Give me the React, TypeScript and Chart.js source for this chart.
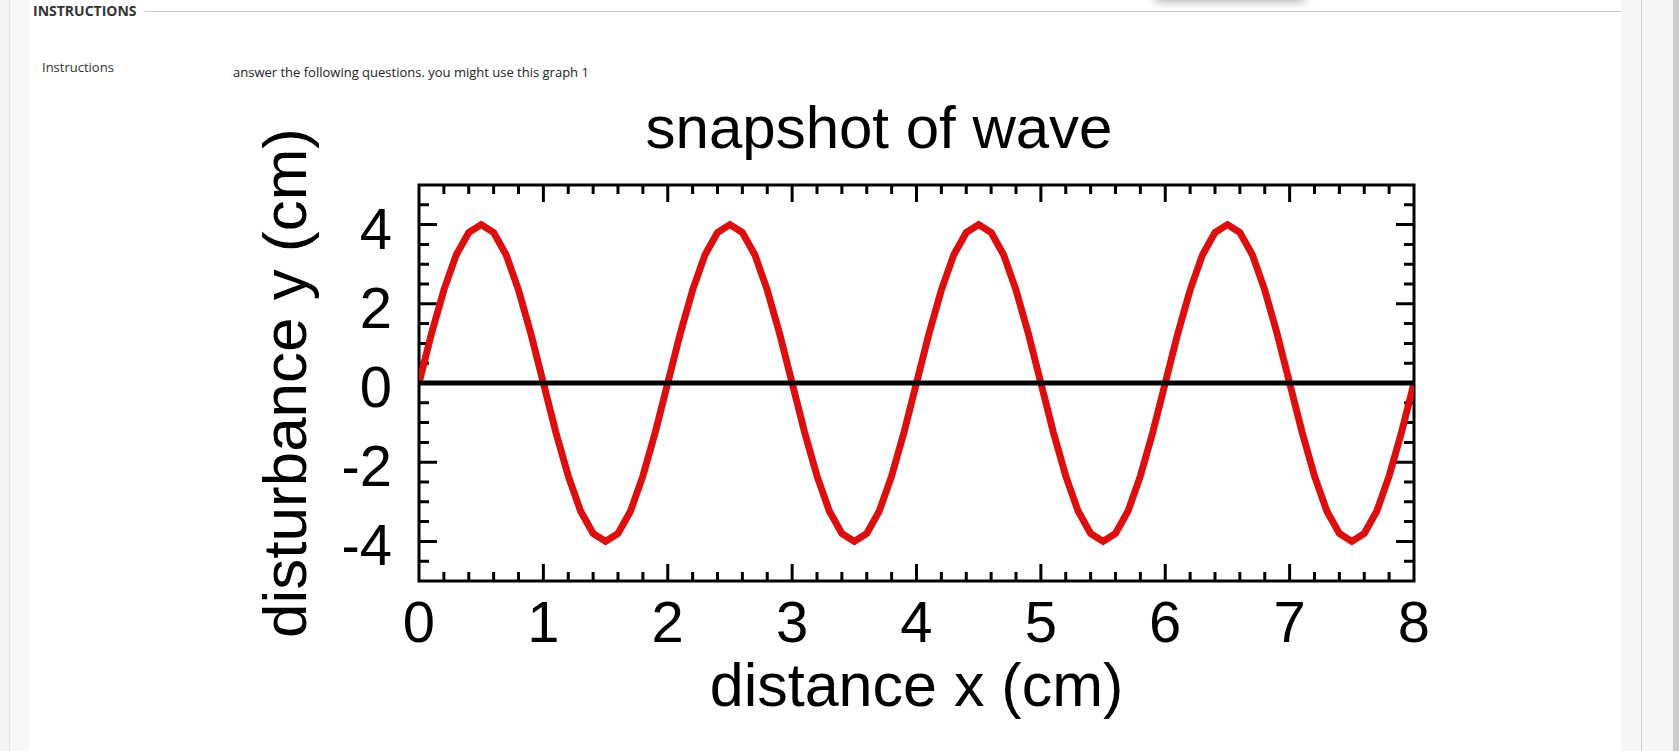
import React, { useEffect, useRef } from 'react';
import { Chart, registerables } from 'chart.js';

Chart.register(...registerables);

// ---- data ----
const xValues = [
  0, 0.1, 0.2, 0.3, 0.4, 0.5, 0.6, 0.7, 0.8, 0.9,
  1, 1.1, 1.2, 1.3, 1.4, 1.5, 1.6, 1.7, 1.8, 1.9,
  2, 2.1, 2.2, 2.3, 2.4, 2.5, 2.6, 2.7, 2.8, 2.9,
  3, 3.1, 3.2, 3.3, 3.4, 3.5, 3.6, 3.7, 3.8, 3.9,
  4, 4.1, 4.2, 4.3, 4.4, 4.5, 4.6, 4.7, 4.8, 4.9,
  5, 5.1, 5.2, 5.3, 5.4, 5.5, 5.6, 5.7, 5.8, 5.9,
  6, 6.1, 6.2, 6.3, 6.4, 6.5, 6.6, 6.7, 6.8, 6.9,
  7, 7.1, 7.2, 7.3, 7.4, 7.5, 7.6, 7.7, 7.8, 7.9,
  8,
];
const yValues = [
  0, 1.24, 2.35, 3.24, 3.8, 4, 3.8, 3.24, 2.35, 1.24,
  0, -1.24, -2.35, -3.24, -3.8, -4, -3.8, -3.24, -2.35, -1.24,
  0, 1.24, 2.35, 3.24, 3.8, 4, 3.8, 3.24, 2.35, 1.24,
  0, -1.24, -2.35, -3.24, -3.8, -4, -3.8, -3.24, -2.35, -1.24,
  0, 1.24, 2.35, 3.24, 3.8, 4, 3.8, 3.24, 2.35, 1.24,
  0, -1.24, -2.35, -3.24, -3.8, -4, -3.8, -3.24, -2.35, -1.24,
  0, 1.24, 2.35, 3.24, 3.8, 4, 3.8, 3.24, 2.35, 1.24,
  0, -1.24, -2.35, -3.24, -3.8, -4, -3.8, -3.24, -2.35, -1.24,
  0,
];
const zeroLineX = [0, 8];
const zeroLineY = [0, 0];
const xTickLabels = [0, 1, 2, 3, 4, 5, 6, 7, 8];
const yTickLabels = [-4, -2, 0, 2, 4];
const xRange = [0, 8];
const yRange = [-5, 5];
const xMinorStep = 0.2;
const yMinorStep = 0.5;

const chartTitle = 'snapshot of wave';
const xTitle = 'distance x (cm)';
const yTitle = 'disturbance y (cm)';

const FONT = "'Liberation Sans', Arial, sans-serif";

const frameTicksPlugin = {
  id: 'frameTicks',
  beforeDatasetsDraw(chart: any) {
    const { ctx, chartArea: a, scales } = chart;
    const xs = scales.x;
    const ys = scales.y;
    ctx.save();
    ctx.strokeStyle = '#000';
    ctx.lineWidth = 3;
    ctx.lineCap = 'butt';
    ctx.beginPath();
    const nx = Math.round((xRange[1] - xRange[0]) / xMinorStep);
    for (let i = 1; i < nx; i++) {
      const v = xRange[0] + i * xMinorStep;
      const major = xTickLabels.some((t) => Math.abs(t - v) < 1e-6);
      const len = major ? 17 : 9;
      const px = xs.getPixelForValue(v);
      ctx.moveTo(px, a.top);
      ctx.lineTo(px, a.top + len);
      ctx.moveTo(px, a.bottom);
      ctx.lineTo(px, a.bottom - len);
    }
    const ny = Math.round((yRange[1] - yRange[0]) / yMinorStep);
    for (let i = 1; i < ny; i++) {
      const v = yRange[0] + i * yMinorStep;
      const major = yTickLabels.some((t) => Math.abs(t - v) < 1e-6);
      const len = major ? 18 : 10;
      const py = ys.getPixelForValue(v);
      ctx.moveTo(a.left, py);
      ctx.lineTo(a.left + len, py);
      ctx.moveTo(a.right, py);
      ctx.lineTo(a.right - len, py);
    }
    ctx.stroke();
    ctx.strokeRect(a.left, a.top, a.right - a.left, a.bottom - a.top);
    ctx.restore();
  },
};

// canvas placement (page pixels)
const CANVAS_LEFT = 230;
const CANVAS_TOP = 90;
const CANVAS_W = 1204;
const CANVAS_H = 650;

function WaveChart() {
  const ref = useRef<HTMLCanvasElement | null>(null);
  useEffect(() => {
    if (!ref.current) return;
    const chart = new Chart(ref.current, {
      type: 'line',
      data: {
        datasets: [
          {
            label: 'zero',
            data: zeroLineX.map((x, i) => ({ x, y: zeroLineY[i] })),
            borderColor: '#000',
            borderWidth: 5,
            pointRadius: 0,
            tension: 0,
          },
          {
            label: 'wave',
            data: xValues.map((x, i) => ({ x, y: yValues[i] })),
            borderColor: '#dc0f0f',
            borderWidth: 7,
            pointRadius: 0,
            tension: 0,
            borderJoinStyle: 'miter',
          },
        ],
      },
      options: {
        animation: false,
        responsive: false,
        maintainAspectRatio: false,
        devicePixelRatio: 1,
        layout: { padding: { left: 114, right: 20, top: 0, bottom: 0 } },
        plugins: {
          legend: { display: false },
          tooltip: { enabled: false },
          title: {
            display: true,
            text: chartTitle,
            color: '#000',
            font: { family: FONT, size: 60, weight: 'normal', lineHeight: 1 },
            padding: { top: 11, bottom: 24 },
          },
        },
        scales: {
          x: {
            type: 'linear',
            min: xRange[0],
            max: xRange[1],
            grid: { display: false, drawTicks: false },
            border: { display: false },
            afterBuildTicks: (s: any) => {
              s.ticks = xTickLabels.map((v) => ({ value: v }));
            },
            afterFit: (s: any) => {
              s.height = 159;
              s.paddingLeft = 0;
              s.paddingRight = 0;
            },
            ticks: {
              color: '#000',
              padding: 16,
              maxRotation: 0,
              autoSkip: false,
              font: { family: FONT, size: 58, lineHeight: 1 },
              callback: (v: any) => String(v),
            },
            title: {
              display: true,
              text: xTitle,
              color: '#000',
              font: { family: FONT, size: 61, lineHeight: 1 },
              padding: { top: 0, bottom: 20 },
            },
          },
          y: {
            type: 'linear',
            min: yRange[0],
            max: yRange[1],
            grid: { display: false, drawTicks: false },
            border: { display: false },
            afterBuildTicks: (s: any) => {
              s.ticks = yTickLabels.map((v) => ({ value: v }));
            },
            afterFit: (s: any) => {
              s.width = 75;
              s.paddingTop = 0;
              s.paddingBottom = 0;
            },
            ticks: {
              color: '#000',
              padding: 27,
              labelOffset: 8,
              autoSkip: false,
              font: { family: FONT, size: 58, lineHeight: 1 },
              callback: (v: any) => String(v),
            },
            title: {
              display: true,
              text: yTitle,
              color: '#000',
              font: { family: FONT, size: 62, lineHeight: 1 },
              padding: { top: -86, bottom: 0 },
            },
          },
        },
      },
      plugins: [frameTicksPlugin],
    } as any);
    return () => chart.destroy();
  }, []);
  return (
    <canvas
      ref={ref}
      width={CANVAS_W}
      height={CANVAS_H}
      style={{ position: 'absolute', left: CANVAS_LEFT, top: CANVAS_TOP, width: CANVAS_W, height: CANVAS_H }}
    />
  );
}

export default function App() {
  const textFont = "'Open Sans', 'Noto Sans', sans-serif";
  return (
    <div
      style={{
        position: 'fixed',
        left: 0,
        top: 0,
        width: 1679,
        height: 751,
        background: '#fff',
        overflow: 'hidden',
        fontFamily: textFont,
      }}
    >
      {/* left strip */}
      <div style={{ position: 'absolute', left: 0, top: 0, width: 9, height: 751, background: '#f3f3f3' }} />
      <div style={{ position: 'absolute', left: 9, top: 0, width: 1, height: 751, background: '#e2e2e2' }} />
      <div style={{ position: 'absolute', left: 10, top: 0, width: 19, height: 751, background: '#f7f7f7' }} />
      {/* right strip */}
      <div style={{ position: 'absolute', left: 1621, top: 0, width: 58, height: 751, background: '#f6f6f6' }} />
      <div style={{ position: 'absolute', left: 1641, top: 0, width: 1, height: 751, background: '#cfcfcf' }} />
      <div style={{ position: 'absolute', left: 1673, top: 0, width: 6, height: 751, background: '#cdcdcd' }} />
      {/* top dropdown shadow */}
      <div
        style={{
          position: 'absolute',
          left: 1155,
          top: -30,
          width: 150,
          height: 30,
          background: '#fff',
          boxShadow: '0 2px 10px rgba(0,0,0,0.3)',
          borderRadius: 4,
        }}
      />
      {/* header */}
      <div style={{ position: 'absolute', left: 145, top: 11, width: 1476, height: 1, background: '#cccccc' }} />
      <div
        style={{
          position: 'absolute',
          left: 33,
          top: 1,
          fontSize: 14,
          lineHeight: '19px',
          fontWeight: 700,
          color: '#333',
          background: '#fff',
          paddingRight: 8,
        }}
      >
        INSTRUCTIONS
      </div>
      <div style={{ position: 'absolute', left: 42, top: 58, fontSize: 13, lineHeight: '18px', color: '#333' }}>
        Instructions
      </div>
      <div style={{ position: 'absolute', left: 233, top: 63, fontSize: 13, lineHeight: '18px', color: '#222' }}>
        answer the following questions. you might use this graph 1
      </div>
      <WaveChart />
    </div>
  );
}
